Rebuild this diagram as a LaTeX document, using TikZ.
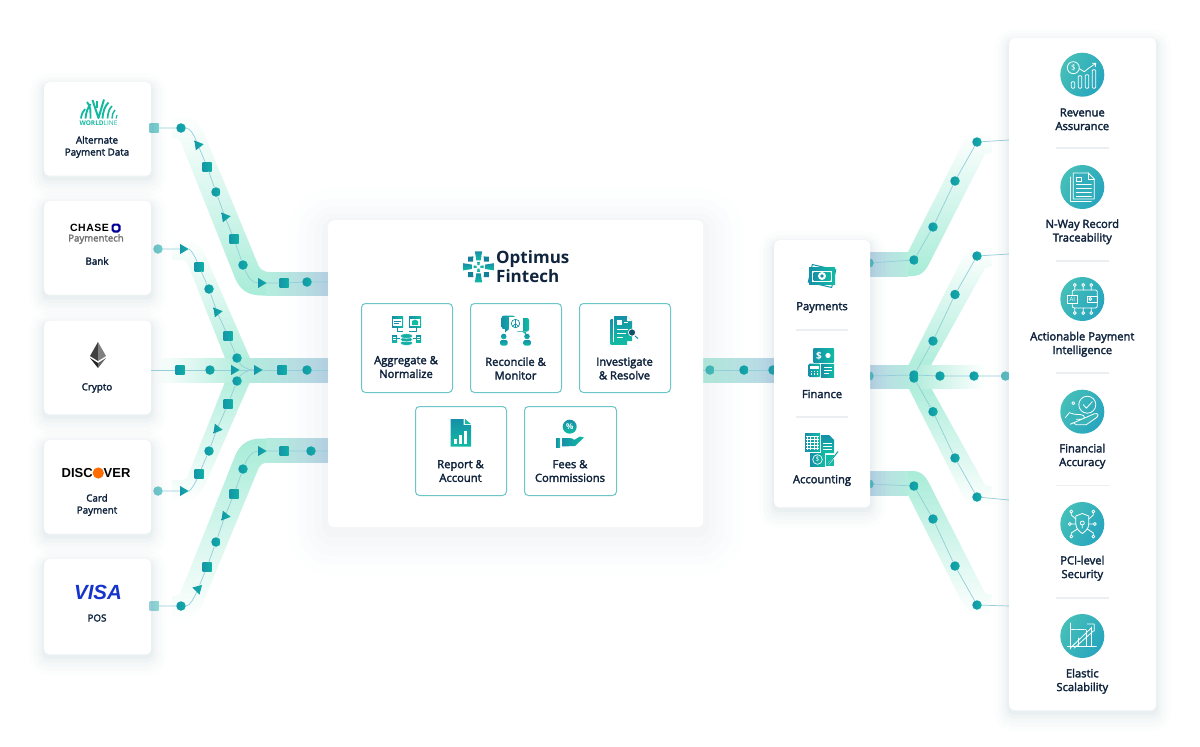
\documentclass[tikz,border=0pt]{standalone}
\usepackage{fontspec}
\setmainfont{Open Sans}
\newfontfamily\lab[FakeBold=2.5]{Open Sans}
\newfontfamily\heavy{Open Sans}[BoldFont={Open Sans Bold}]
\newfontfamily\arialb{Liberation Sans}[BoldFont={Liberation Sans Bold},BoldItalicFont={Liberation Sans Bold Italic}]
\usetikzlibrary{shapes.geometric}
\definecolor{navy}{HTML}{10243E}
\definecolor{tl}{HTML}{1590A8}
\definecolor{tg}{HTML}{12BBA3}
\definecolor{dotA}{HTML}{1496A8}
\definecolor{dotB}{HTML}{0FAFA6}
\definecolor{wirec}{HTML}{93CEDA}
\definecolor{shc}{HTML}{7F9DB8}
\definecolor{bandT}{HTML}{FFFFFF}
\definecolor{bandB}{HTML}{A8ECD8}
\definecolor{bandM}{HTML}{B4EDDD}
\definecolor{bandE}{HTML}{BAD6E6}
\definecolor{tileline}{HTML}{6CC6C9}
\definecolor{sep}{HTML}{ECEFF1}
\definecolor{circA}{HTML}{45BFB8}
\definecolor{circB}{HTML}{27A5BE}
\definecolor{wlc}{HTML}{14B8A0}
\definecolor{visac}{HTML}{1434CB}
\tikzset{
 softS/.style={
  preaction={draw=shc,draw opacity=.018,line width=30pt,transform canvas={yshift=-6pt}},
  preaction={draw=shc,draw opacity=.02,line width=22pt,transform canvas={yshift=-6pt}},
  preaction={draw=shc,draw opacity=.03,line width=15pt,transform canvas={yshift=-5pt}},
  preaction={draw=shc,draw opacity=.04,line width=9pt,transform canvas={yshift=-4pt}},
  preaction={draw=shc,draw opacity=.05,line width=4pt,transform canvas={yshift=-3pt}}},
 softL/.style={
  preaction={draw=shc,draw opacity=.008,line width=80pt,transform canvas={yshift=-8pt}},
  preaction={draw=shc,draw opacity=.01,line width=60pt,transform canvas={yshift=-8pt}},
  preaction={draw=shc,draw opacity=.014,line width=42pt,transform canvas={yshift=-8pt}},
  preaction={draw=shc,draw opacity=.02,line width=26pt,transform canvas={yshift=-6pt}},
  preaction={draw=shc,draw opacity=.025,line width=12pt,transform canvas={yshift=-4pt}}},
 cardbox/.style={fill=white,rounded corners=5pt,anchor=north west,inner sep=0,softS},
 tilebox/.style={draw=tileline,line width=1pt,fill=white,rounded corners=4pt,anchor=north west,inner sep=0,minimum width=91,minimum height=89},
 lb/.style={align=center,inner sep=0,text=navy,font=\lab\fontsize{11.2}{13.7}\selectfont},
 lbs/.style={align=center,inner sep=0,text=navy,font=\lab\fontsize{9.8}{12}\selectfont},
 wdot/.style={circle,inner sep=0,minimum size=9.5,left color=dotA,right color=dotB},
 wsq/.style={rectangle,inner sep=0,minimum size=9,left color=dotA,right color=dotB},
 wtri/.style={regular polygon,regular polygon sides=3,inner sep=0,minimum size=11.5,left color=dotA,right color=dotB,rotate=#1-90},
 wire/.style={draw=wirec,line width=.7pt},
 sepl/.style={draw=sep,line width=1.2pt},
 wi/.style={draw=white,line width=.8pt,line join=round,line cap=round},
 gr/.style={top color=tl,bottom color=tg},
 grh/.style={left color=tl,right color=tg},
}
\newcommand{\bandA}[2]{%
 \shade[top color=#1,bottom color=#2] (172,113) .. controls (190,113) and (198,120) .. (203,131) -- (257,262) .. controls (259,268) and (262,272) .. (270,272) -- (328,272) -- (328,295.5) -- (262,295.5) .. controls (248,295.5) and (240,290) .. (235,278) -- (180,140) .. controls (178,138) and (176,138) .. (172,138) -- cycle;
 \shade[left color=bandM,right color=bandE] (266,272) rectangle (328,295.5);
}
\newcommand{\bandB}[2]{%
 \shade[top color=#1,bottom color=#2] (172,237) .. controls (190,237) and (200,243) .. (206,257) -- (250,358) -- (300,358) -- (300,382) -- (240,382) -- (225,358) -- (187,262) .. controls (186,260) and (182,260) .. (172,260) -- cycle;
}
\newcommand{\bandR}[2]{%
 \shade[top color=#1,bottom color=#2] (990,130) .. controls (978,130) and (968,134) .. (963,143) -- (908,252) -- (880,252) -- (880,276) -- (912,276) .. controls (922,276) and (926,270) .. (930,262) -- (985,154) -- (992,152) -- cycle;
 \shade[left color=bandE,right color=bandM] (870,252) rectangle (908,276);
}
\newcommand{\bandRd}[2]{%
 \shade[top color=#1,bottom color=#2] (990,245) .. controls (978,245) and (968,248) .. (963,257) -- (908,366) -- (908,376) -- (925,376) -- (985,268) -- (992,266) -- cycle;
}
\begin{document}
\begin{tikzpicture}[x=1pt,y=-1pt]
\useasboundingbox (0,0) rectangle (1200,747);
\fill[white] (0,0) rectangle (1200,747);
% ---------- bands
\bandA{bandT}{bandB}
\begin{scope}[shift={(0,734)},yscale=-1]\bandA{bandB}{bandT}\end{scope}
\bandB{bandT}{bandB}
\begin{scope}[shift={(0,740)},yscale=-1]\bandB{bandB}{bandT}\end{scope}
\shade[left color=white,right color=bandM] (155,358) rectangle (240,382);
\shade[left color=bandM,right color=bandE] (240,358) rectangle (328,382);
\shade[left color=bandM,right color=bandE] (703,358) rectangle (774,382);
\bandR{bandT}{bandB}
\begin{scope}[shift={(0,747)},yscale=-1]\bandR{bandB}{bandT}\end{scope}
\bandRd{bandT}{bandB}
\begin{scope}[shift={(0,753)},yscale=-1]\bandRd{bandB}{bandT}\end{scope}
\shade[left color=bandE,right color=bandM] (870,365) rectangle (915,388);
\shade[left color=bandM,right color=white] (915,365) rectangle (985,388);
% ---------- left cards
\node[cardbox,minimum width=107,minimum height=93.5] (card1) at (44,82) {};
\node[cardbox,minimum width=107,minimum height=93.5] (card2) at (44,201) {};
\node[cardbox,minimum width=107,minimum height=93.5] (card3) at (44,320.5) {};
\node[cardbox,minimum width=107,minimum height=93.5] (card4) at (44,440) {};
\node[cardbox,minimum width=107,minimum height=95] (card5) at (44,559) {};
% main box
\node[fill=white,rounded corners=6pt,anchor=north west,inner sep=0,softL,minimum width=375,minimum height=307] (mainb) at (328,220) {};
% ---------- left path nodes
\node[wsq,opacity=.55] (a1) at (154,128) {};
\node[wdot] (a2) at (181,128) {};
\node[wtri=-112] (a3) at (198,145) {};
\node[wsq] (a4) at (207,166.5) {};
\node[wdot] (a5) at (216,192) {};
\node[wtri=-112] (a6) at (225,217) {};
\node[wsq] (a7) at (234,239) {};
\node[wdot] (a8) at (243,265) {};
\node[wtri=0] (a9) at (261,283) {};
\node[wsq] (a10) at (284,283) {};
\node[wdot] (a11) at (307,282) {};
\node[wdot,opacity=.6] (b1) at (158,249) {};
\node[wtri=0] (b2) at (183,249) {};
\node[wsq] (b3) at (199,266.5) {};
\node[wdot] (b4) at (209,289) {};
\node[wtri=-112] (b5) at (217,312) {};
\node[wsq] (b6) at (228,336) {};
\node[wdot] (b7) at (237,358) {};
\node[wsq] (c1) at (180,370) {};
\node[wdot] (c2) at (210,370) {};
\node[wtri=0] (c3) at (234,370) {};
\node[wtri=0] (c4) at (257,370) {};
\node[wsq] (c5) at (282,370) {};
\node[wdot] (c6) at (307,370) {};
\node[wdot,opacity=.6] (d1) at (158,491) {};
\node[wtri=0] (d2) at (183,491) {};
\node[wsq] (d3) at (199,474) {};
\node[wdot] (d4) at (209,451) {};
\node[wtri=112] (d5) at (217,429) {};
\node[wsq] (d6) at (228,404) {};
\node[wdot] (d7) at (237,381) {};
\node[wsq,opacity=.45] (e1) at (154,606) {};
\node[wdot] (e2) at (181,606) {};
\node[wtri=45] (e3) at (198,589) {};
\node[wsq] (e4) at (207,567) {};
\node[wdot] (e5) at (216,542) {};
\node[wtri=112] (e6) at (225,516) {};
\node[wsq] (e7) at (234,494) {};
\node[wdot] (e8) at (243,469) {};
\node[wtri=0] (e9) at (261,451) {};
\node[wsq] (e10) at (284,451) {};
\node[wdot] (e11) at (311,451) {};
\draw[wire] (a1) -- (a2) .. controls (190,128) and (194,135) .. (a3) -- (a4) -- (a5) -- (a6) -- (a7) -- (a8) .. controls (247,275) and (251,283) .. (a9) -- (a10) -- (a11) -- (mainb.west |- a11);
\draw[wire] (b1) -- (b2) .. controls (190,249) and (195,256) .. (b3) -- (b4) -- (b5) -- (b6) -- (b7) .. controls (241,366) and (247,370) .. (c4);
\draw[wire] (card3.east |- c1) -- (c1) -- (c2) -- (c3) -- (c4) -- (c5) -- (c6) -- (mainb.west |- c6);
\draw[wire] (d1) -- (d2) .. controls (190,491) and (195,484) .. (d3) -- (d4) -- (d5) -- (d6) -- (d7) .. controls (241,374) and (247,370) .. (c4);
\draw[wire] (e1) -- (e2) .. controls (190,606) and (194,598) .. (e3) -- (e4) -- (e5) -- (e6) -- (e7) -- (e8) .. controls (247,459) and (251,451) .. (e9) -- (e10) -- (e11) -- (mainb.west |- e11);
% ---------- middle connector and right nodes
\node[wdot,opacity=.7] (m1) at (710,370) {};
\node[wdot] (m2) at (744,370) {};
\node[wdot] (m3) at (773,370) {};
\draw[wire] (mainb.east |- m1) -- (m1) -- (m2) -- (m3);
\node[wdot,opacity=.7] (p0) at (869,263) {};
\node[wdot] (p1) at (914,260) {};
\node[wdot] (p2) at (933,227) {};
\node[wdot] (p3) at (955,181) {};
\node[wdot] (p4) at (977,142) {};
\coordinate (pe) at (1009,140);
\draw[wire] (p0) -- (p1) -- (p2) -- (p3) -- (p4) -- (pe);
\node[wdot,opacity=.7] (q0) at (869,376) {};
\node[wdot] (q1) at (914,375) {};
\node[wdot] (q2) at (933,341) {};
\node[wdot] (q3) at (955,294.5) {};
\node[wdot] (q4) at (977,256) {};
\coordinate (qe) at (1009,254);
\draw[wire] (q0) -- (q1) -- (q2) -- (q3) -- (q4) -- (qe);
\node[wdot] (r1) at (914,378) {};
\node[wdot] (r2) at (933,411.7) {};
\node[wdot] (r3) at (955,458) {};
\node[wdot] (r4) at (977,497) {};
\coordinate (re) at (1009,500);
\draw[wire] (r1) -- (r2) -- (r3) -- (r4) -- (re);
\node[wdot] (h1) at (940,376) {};
\node[wdot] (h2) at (974,376) {};
\node[wdot,opacity=.7] (h3) at (1005.5,376) {};
\draw[wire] (q1) -- (h1) -- (h2) -- (h3);
\node[wdot,opacity=.7] (s0) at (869,484) {};
\node[wdot] (s1) at (914,486) {};
\node[wdot] (s2) at (933,519) {};
\node[wdot] (s3) at (955,566) {};
\node[wdot] (s4) at (977,605) {};
\coordinate (se) at (1009,606);
\draw[wire] (s0) -- (s1) -- (s2) -- (s3) -- (s4) -- (se);
% ---------- panels
\node[cardbox,minimum width=96,minimum height=267] (midp) at (774,240) {};
\node[cardbox,minimum width=147,minimum height=672] (rightp) at (1009,38) {};
% ---------- left card content
\draw[wlc,line width=1.8pt] (81,118.5) .. controls (81.5,114) and (83,111.5) .. (85,109);
\draw[wlc,line width=1.9pt] (85.5,118.5) .. controls (86,112) and (88,107.5) .. (90.5,104);
\draw[wlc,line width=1.9pt] (90.5,118.5) .. controls (90.5,112) and (91,106) .. (87,102);
\draw[wlc,line width=2pt,line join=round] (92.5,100) -- (98.5,118) -- (104,99.5);
\draw[wlc,line width=1.5pt] (97,108) -- (97,101);
\draw[wlc,line width=1.9pt] (102.5,118.5) .. controls (103,111) and (105,106) .. (108.5,102.5);
\draw[wlc,line width=1.7pt] (107.5,118.5) .. controls (108,113) and (109,109) .. (112,106);
\draw[wlc,line width=1.4pt] (112,118.5) .. controls (112,115) and (113,112) .. (115,110);
\draw[wlc,line width=1.1pt] (116,118.5) .. controls (116,117) and (116.5,116) .. (117,115);
\node[inner sep=0,text=wlc] (wl) at (98.5,123.5) {\fontsize{6.5}{7}\selectfont\heavy\bfseries WORLD{\mdseries LINE}};
\node[lbs] (l1) at (97,147) {Alternate\\Payment Data};
\node[inner sep=0,text=black,font=\arialb\bfseries\fontsize{10.5}{11}\selectfont] (ch) at (89.5,228) {C\kern.5pt H\kern.5pt A\kern.5pt S\kern.5pt E};
\draw[draw=blue!60!black,line width=2.2pt] (114.2,224.6) -- (117.8,224.6) -- (119.4,226.2) -- (119.4,229.8) -- (117.8,231.4) -- (114.2,231.4) -- (112.6,229.8) -- (112.6,226.2) -- cycle;
\node[inner sep=0,text=black!55,font=\lab\fontsize{9.6}{11}\selectfont] (pt) at (96,239) {Paymentech};
\node[lbs] (l2) at (97,261) {Bank};
\fill[black!75] (98,342) -- (90,356) -- (98,361) -- cycle;
\fill[black!50] (98,342) -- (106,356) -- (98,361) -- cycle;
\fill[black!85] (90,358) -- (98,363) -- (98,368) -- cycle;
\fill[black!60] (106,358) -- (98,363) -- (98,368) -- cycle;
\node[lbs] (l3) at (97,388) {Crypto};
\node[inner sep=0,anchor=east,text=black,font=\arialb\bfseries\fontsize{13}{13}\selectfont] (dc) at (93,473) {DISC};
\fill[orange!85!red] (98.3,473) circle (5.6);
\node[inner sep=0,text=orange!85!red,font=\arialb\bfseries\fontsize{12.5}{13}\selectfont] (dco) at (98.3,473) {O};
\node[inner sep=0,anchor=west,text=black,font=\arialb\bfseries\fontsize{13}{13}\selectfont] (dv) at (103.5,473) {VER};
\node[lbs] (l4) at (97,505) {Card\\Payment};
\node[inner sep=0,text=visac,font=\arialb\bfseries\itshape\fontsize{20.5}{21}\selectfont] (vs) at (98,592) {VISA};
\node[lbs] (l5) at (97,618) {POS};
% ---------- Optimus logo
\begin{scope}[shift={(478.5,266.8)}]
 \foreach \ang in {0,90,180,270}{
  \begin{scope}[rotate=\ang]
   \shade[top color=tl,bottom color=tg] (6.5,-2.2) -- (15.5,-3.6) -- (15.5,3.6) -- (6.5,2.2) -- cycle;
   \fill[tg!80!tl] (1.8,-1) -- (5,-1.4) -- (5,1.4) -- (1.8,1) -- cycle;
  \end{scope}
 }
 \foreach \ang in {45,135,225,315}{
  \begin{scope}[rotate=\ang]
   \fill[tl!85!navy] (7.5,0) -- (11,-3.6) -- (14.5,0) -- (11,3.6) -- cycle;
  \end{scope}
 }
\end{scope}
\node[inner sep=0,anchor=west,text=navy,font=\heavy\bfseries\fontsize{17}{19}\selectfont] (opt) at (496,259.5) {Optimus};
\node[inner sep=0,anchor=west,text=navy,font=\heavy\bfseries\fontsize{17}{19}\selectfont] (fin) at (496,276.5) {Fintech};
% ---------- tiles
\node[tilebox] (t1) at (361,303) {};
\node[tilebox] (t2) at (470,303) {};
\node[tilebox] (t3) at (579,303) {};
\node[tilebox] (t4) at (415,406) {};
\node[tilebox,minimum width=92] (t5) at (524,406) {};
\node[lb] (tl1) at (406,367) {Aggregate \&\\Normalize};
\node[lb] (tl2) at (515.5,368.5) {Reconcile \&\\Monitor};
\node[lb] (tl3) at (624.5,368.5) {Investigate\\\& Resolve};
\node[lb] (tl4) at (460.5,471) {Report \&\\Account};
\node[lb] (tl5) at (570,471) {Fees \&\\Commissions};
% aggregate icon
\shade[grh] (392,316) rectangle (403,327);
\shade[grh] (409,316) rectangle (421,327);
\fill[white] (393.2,319) rectangle (401.8,325.8);
\fill[white] (410.2,319) rectangle (419.8,325.8);
\draw[tl,line width=.7pt] (394,321) -- (401,321) (394,323.5) -- (399,323.5);
\fill[tg] (412,321) -- (415,319.6) -- (418,321) -- (418,325) -- (412,325) -- cycle;
\shade[gr] (392,335) rectangle (397,342);
\shade[gr] (416,335) rectangle (421,342);
\draw[white,line width=.5pt] (393,337) -- (396,337) (393,339.5) -- (396,339.5) (417,337) -- (420,337) (417,339.5) -- (420,339.5);
\draw[tl,line width=.5pt] (397,327) -- (397,331) -- (403,331) (416,327) -- (416,331) -- (409,331) (397,338.5) -- (400,338.5) (413,338.5) -- (416,338.5);
\foreach \yy in {343,339.5,336}{\fill[tg!70!tl,draw=white,line width=.5pt] (406.5,\yy) ellipse (6.5 and 2.3);}
% reconcile icon
\shade[grh,rounded corners=2pt] (501.7,315.7) rectangle (515,329);
\fill[tl] (505,329) -- (505,332.5) -- (509,329) -- cycle;
\shade[grh,rounded corners=2pt] (516,318) rectangle (529,331.5);
\fill[tg] (522,331.5) -- (526,334.5) -- (526,331.5) -- cycle;
\draw[white,fill=white,line width=.5pt] (509,317) rectangle (522,330);
\draw[tl,line width=.7pt] (515.5,323.5) circle (4.2) (515.5,319.3) -- (515.5,327.7) (515.5,323.5) -- (512.5,326.5) (515.5,323.5) -- (518.5,326.5);
\shade[gr] (503.7,336.5) circle (2.8);
\shade[gr,rounded corners=1.5pt] (500,340) rectangle (507.5,345.5);
\shade[gr] (527,336.5) circle (2.8);
\shade[gr,rounded corners=1.5pt] (523.3,340) rectangle (530.8,345.5);
% investigate icon
\shade[gr] (610.7,319) rectangle (627,344);
\draw[white,line width=.6pt] (613.5,316.5) -- (613.5,341.5);
\shade[gr] (614,316) -- (627,316) -- (632,321) -- (632,341) -- (614,341) -- cycle;
\fill[white] (617,320) rectangle (622,325);
\draw[white,line width=1pt] (624,322) -- (628,322) (617,329) -- (628,329) (617,333) -- (626,333) (617,337) -- (623,337);
\fill[white] (627,316) -- (632,321) -- (627,321) -- cycle;
\fill[navy!60!tl,draw=white,line width=.7pt] (632,332.5) circle (3.6);
\draw[tl,line width=1pt] (635,336) -- (638,338.5);
% report icon
\shade[gr] (450.7,419) -- (463.5,419) -- (463.5,425) -- (471,425) -- (471,446.7) -- (450.7,446.7) -- cycle;
\fill[tg] (465,419) -- (471,424) -- (465,424) -- cycle;
\fill[white] (453.5,439) rectangle (456.5,444);
\fill[white] (458.5,435) rectangle (461.5,444);
\fill[white] (463.5,431) rectangle (466.5,444);
% fees icon
\shade[gr] (569.7,426.7) circle (7);
\node[inner sep=0,text=white,font=\heavy\bfseries\fontsize{8}{8}\selectfont] (pct) at (569.7,426.7) {\%};
\shade[grh] (556,438) rectangle (560,447);
\shade[grh] (562,438) -- (569,438) .. controls (572,438) and (574,439) .. (574,440) -- (580,436.5) -- (584,437.5) -- (575,446) -- (562,446.5) -- cycle;
% ---------- middle panel content
\begin{scope}[shift={(822,276)}]
 \begin{scope}[rotate=-13]
  \draw[tl,line width=1pt,fill=white] (-12,-9) rectangle (12,9);
 \end{scope}
 \shade[grh] (-13,-8.5) rectangle (13,8.5);
 \fill[white] (-10,-5.5) rectangle (10,5.5);
 \shade[grh] (-8.5,-4) rectangle (8.5,4);
 \fill[white] (0,0) circle (4);
 \fill[tl] (0,0) circle (1.8);
\end{scope}
\node[lb] (mp1) at (822,307.5) {Payments};
\draw[sepl] (796,330) -- (848,330);
\shade[grh,rounded corners=1pt] (813,348) rectangle (834,363);
\node[inner sep=0,text=white,font=\heavy\bfseries\fontsize{10}{10}\selectfont] (mdl) at (819,355.5) {\$};
\fill[white] (828,355.5) circle (2.6);
\shade[grh] (821,364) rectangle (834,377);
\draw[white,line width=.7pt] (824,367) -- (832,367) (824,370) -- (832,370) (824,373) -- (829,373);
\fill[white] (807.5,362.5) rectangle (821,378);
\shade[grh,rounded corners=1pt] (808.5,363.5) rectangle (820,377);
\fill[white] (810,365.5) rectangle (818.5,368.5);
\foreach \xx in {810.5,813.5,816.5}{\foreach \yy in {370.5,373.3}{\fill[white] (\xx,\yy) rectangle ++(1.8,1.8);}}
\node[lb] (mp2) at (822,394) {Finance};
\draw[sepl] (796,417) -- (848,417);
\shade[grh] (805,433) rectangle (820,451);
\foreach \xx in {807,810.5,814,817}{\draw[white,line width=.5pt] (\xx,436) -- (\xx,450);}
\foreach \yy in {436,439,442,445,448}{\draw[white,line width=.5pt] (806,\yy) -- (819,\yy);}
\shade[gr] (821,435) -- (829,435) -- (834,440) -- (834,453) -- (821,453) -- cycle;
\draw[white,line width=.6pt] (823,443) -- (832,443) (823,446) -- (832,446) (823,449) -- (832,449);
\shade[grh] (810,453) rectangle (825,466);
\draw[white,line width=.7pt] (817.5,459.5) circle (4.8);
\node[inner sep=0,text=white,font=\heavy\fontsize{6.5}{7}\selectfont] (mdl2) at (817.5,459.5) {\$};
\fill[tg] (826,455) rectangle (834,466);
\draw[white,line width=1.6pt] (828,464.5) -- (835,456);
\draw[tl!70!tg,line width=1pt] (827.5,465) -- (838,451.5);
\node[lb] (mp3) at (822,480.5) {Accounting};
% ---------- right panel content
\foreach \cy in {74.7,187,299,411.7,524,636}{
 \shade[left color=circA,right color=circB,shading angle=60] (1082.3,\cy) circle (22);
}
\foreach \sy in {148,261,373,485.5,598}{\draw[sepl] (1056,\sy) -- (1109,\sy);}
\node[lb] (rl1) at (1082.3,119.3) {Revenue\\Assurance};
\node[lb] (rl2) at (1082.3,231.8) {N-Way Record\\Traceability};
\node[lb] (rl3) at (1082.3,344.3) {Actionable Payment\\Intelligence};
\node[lb] (rl4) at (1082.3,456.3) {Financial\\Accuracy};
\node[lb] (rl5) at (1082.3,568.3) {PCI-level\\Security};
\node[lb] (rl6) at (1082.3,681.3) {Elastic\\Scalability};
% revenue icon
\begin{scope}[shift={(1082.3,74.7)}]
 \draw[wi] (-9,-7) circle (6);
 \node[inner sep=0,text=white,font=\heavy\fontsize{8}{8}\selectfont] (rv) at (-9,-7) {\$};
 \draw[wi,rounded corners=1pt] (-11,7) rectangle (-7.5,13.5) (-4,1) rectangle (-.5,13.5) (3,0) rectangle (6.5,13.5) (10,-5) rectangle (13.5,13.5);
 \draw[wi] (-3,-6) -- (2,-3) -- (7,-7) -- (13,-11) (10,-11.5) -- (13.5,-11.5) -- (13,-8);
\end{scope}
% nway icon
\begin{scope}[shift={(1082.3,187)}]
 \draw[wi] (-12,-10) -- (-12,14) -- (9,14);
 \draw[wi,fill=circB!60!circA] (-9,-14) -- (6,-14) -- (12,-8) -- (12,12) -- (-9,12) -- cycle;
 \draw[wi] (6,-14) -- (6,-8) -- (12,-8);
 \draw[wi] (-6,-10) rectangle (-1,-6);
 \draw[wi] (-6,-3) -- (9,-3) (-6,1) -- (9,1) (-6,5) -- (9,5) (-6,9) -- (9,9);
\end{scope}
% AI wallet icon
\begin{scope}[shift={(1082.3,299)}]
 \draw[wi,rounded corners=2pt] (-10,-9) rectangle (15,9);
 \draw[wi] (5,-3) rectangle (15,3);
 \draw[wi] (8,0) circle (1.5);
 \draw[wi,fill=circB!50!circA] (-15,-4) rectangle (-5,4);
 \node[inner sep=0,text=white,font=\heavy\fontsize{6}{6}\selectfont] (ai) at (-10,0) {AI};
 \foreach \xx in {-7.5,1,9}{
  \draw[wi] (\xx,-9) -- (\xx,-12.5) (\xx,-14) circle (1.5);
  \draw[wi] (\xx,9) -- (\xx,12.5) (\xx,14) circle (1.5);
 }
\end{scope}
% accuracy icon
\begin{scope}[shift={(1082.3,411.7)}]
 \draw[wi] (5,-7) circle (8.5);
 \draw[wi] (1,-7) -- (4,-3.5) -- (10,-10);
 \draw[wi] (-9,-10) -- (-7.5,-8.5) -- (-9,-7) -- (-10.5,-8.5) -- cycle;
 \draw[wi,fill=circB!40!circA] (-17,6) -- (-13,1) -- (-8,2.5) -- (-1,3) .. controls (3,3.5) and (3,7.5) .. (-1,7.5) -- (-6,7.5) (3,6) -- (12,2) .. controls (16,1) and (17,4) .. (14,6) -- (4,13) -- (-6,13) -- (-9,11) -- (-12,12.5) -- cycle;
\end{scope}
% PCI icon
\begin{scope}[shift={(1082.3,524)}]
 \draw[wi] (-6.5,-8) -- (0,-10.5) -- (6.5,-8) -- (6.5,0) .. controls (6.5,5) and (2,8) .. (0,9.5) .. controls (-2,8) and (-6.5,5) .. (-6.5,0) -- cycle;
 \draw[wi] (0,-1) circle (2) (0,1) -- (0,4);
 \draw[wi] (-6.5,-5) -- (-11,-9) -- (-11,-11) (6.5,-5) -- (11,-9) -- (11,-11) (-6.5,0) -- (-11,0) (6.5,0) -- (11,0) (-5,5) -- (-11,9) -- (-11,11) (5,5) -- (11,9) -- (11,11);
 \draw[wi] (-11,-12.5) circle (1.5) (11,-12.5) circle (1.5) (-12.5,0) circle (1.5) (12.5,0) circle (1.5) (-11,12.5) circle (1.5) (11,12.5) circle (1.5);
\end{scope}
% elastic icon
\begin{scope}[shift={(1082.3,636)}]
 \draw[wi] (-12,-13) -- (-12,13) (-15,10) -- (14,10);
 \draw[wi] (4,-6) -- (4,10) (9,-9) -- (9,10) (-4,2) -- (-4,10);
 \draw[wi,densely dotted] (-12,-7) -- (4,-7);
 \draw[wi] (-12,12) -- (9,-8) (-8,12) -- (11,-5) (5,-12) -- (12,-12) -- (12,-5);
\end{scope}
\end{tikzpicture}
\end{document}
